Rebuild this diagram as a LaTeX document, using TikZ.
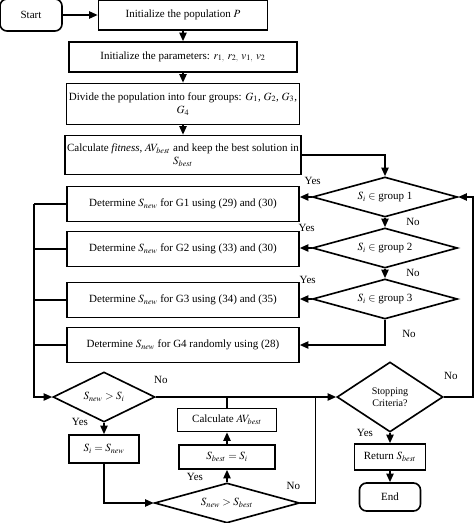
\documentclass[tikz,border=0pt]{standalone}
\usepackage{mathptmx}
\usepackage{fontspec}
\setmainfont{Liberation Serif}
\usetikzlibrary{shapes.geometric,positioning,arrows.meta}

\begin{document}
\begin{tikzpicture}[node distance=1.5cm,on grid,auto,
    line width=1.4pt,
    >={Triangle[length=2.6mm,width=2.2mm]},
    every node/.style={font=\fontsize{9.4}{11.5}\selectfont},
    box/.style={draw,rectangle,inner sep=2pt,minimum height=0.9cm,align=center},
    wide/.style={box,minimum width=6.96cm,minimum height=1.05cm},
    term/.style={draw,rectangle,rounded corners=6pt,align=center},
    test/.style={draw,diamond,inner sep=0pt,aspect=3,minimum width=4.35cm,minimum height=1.2cm,align=center},
    lbl/.style={inner sep=1pt}]
    \useasboundingbox (0,0) rectangle (14.22,-15.69);

    \node[box,minimum width=5.07cm] (pop) at (5.49,-0.45) {Initialize the population $P$};
    \node[term,minimum width=1.86cm,minimum height=0.96cm] (start) [left=4.56cm of pop] {Start};
    \node[box,minimum width=6.84cm] (param) [below=1.26cm of pop] {Initialize the parameters: $r_{1,}\ r_{2,}\ v_{1,}\ v_2$};
    \node[box,minimum width=6.9cm,minimum height=1.23cm] (divide) [below=1.41cm of param] {Divide the population into four groups: $G_1$, $G_2$, $G_3$,\\ $G_4$};
    \node[box,minimum width=6.96cm,minimum height=1.17cm] (calc) [below=1.53cm of divide] {Calculate \textit{fitness}, $AV_{best}$ and keep the best solution in\\ $S_{best}$};
    \node[wide] (g1) [below=1.47cm of calc] {Determine $S_{new}$ for G1 using (29) and (30)};
    \node[wide] (g2) [below=1.35cm of g1] {Determine $S_{new}$ for G2 using (33) and (30)};
    \node[wide] (g3) [below=1.53cm of g2] {Determine $S_{new}$ for G3 using (34) and (35)};
    \node[wide] (g4) [below=1.35cm of g3] {Determine $S_{new}$ for G4 randomly using (28)};

    \node[test] (d1) [above right=0.21cm and 6.06cm of g1] {$S_i \in$ group 1};
    \node[test] (d2) [below=1.53cm of d1] {$S_i \in$ group 2};
    \node[test] (d3) [below=1.53cm of d2] {$S_i \in$ group 3};

    \node[test,minimum width=3.06cm,minimum height=1.5cm] (cmp1) [below left=1.56cm and 2.37cm of g4] {$S_{new} > S_i$};
    \node[box,minimum width=2.1cm,minimum height=0.84cm] (upd) [below=1.56cm of cmp1] {$S_i = S_{new}$};
    \node[test] (cmp2) [below right=3.18cm and 3.69cm of cmp1] {$S_{new} > S_{best}$};
    \node[box,minimum width=2.88cm,minimum height=0.72cm] (sbest) [above=1.38cm of cmp2] {$S_{best} = S_i$};
    \node[box,minimum width=2.97cm,minimum height=0.69cm] (avb) [above=1.11cm of sbest] {Calculate $AV_{best}$};

    \node[test,minimum width=3.18cm,minimum height=2.1cm,font=\fontsize{8.6}{10}\selectfont] (stop) [right=8.58cm of cmp1] {Stopping\\ Criteria?};
    \node[box,minimum width=2.13cm,minimum height=0.78cm] (ret) [below=1.8cm of stop] {Return $S_{best}$};
    \node[term,minimum width=1.83cm,minimum height=0.84cm] (end) [below=1.2cm of ret] {End};

    \coordinate (bus) at ([xshift=-0.96cm]g1.west);
    \coordinate (join) at ([xshift=0.45cm]cmp2.east);

    \draw[->] (start) -- (pop);
    \draw[->] (pop) -- (param);
    \draw[->] (param) -- (divide);
    \draw[->] (divide) -- (calc);
    \draw[->] (calc.east) -| (d1.north);

    \draw[->] (d1.west) -- (d1.west -| g1.east);
    \draw[->] (d2.west) -- (d2.west -| g2.east);
    \draw[->] (d3.west) -- (d3.west -| g3.east);
    \draw[->] (d1) -- (d2);
    \draw[->] (d2) -- (d3);
    \draw[->] (d3.south) |- (g4.east);

    \draw (g1.west) -- (bus);
    \draw (g2.west) -- (g2.west -| bus);
    \draw (g3.west) -- (g3.west -| bus);
    \draw (g4.west) -- (g4.west -| bus);
    \draw[->] (bus) |- (cmp1.west);

    \draw[->] (cmp1) -- (upd);
    \draw[->] (upd.south) |- (cmp2.west);
    \draw[->] (cmp1.east) -- (stop.west);
    \draw (cmp2.east) -- (join) -- (join |- stop.west);
    \draw[->] (cmp2) -- (sbest);
    \draw[->] (sbest) -- (avb);
    \draw (avb.north) -- (avb.north |- stop.west);

    \draw[->] (stop) -- (ret);
    \draw[->] (ret) -- (end);
    \draw[->] (stop.east) -- ++(0.87,0) |- (d1.east);

    % yes / no labels
    \node[lbl] (y1) at ([shift={(0.03,0.48)}]d1.west) {Yes};
    \node[lbl] (y2) at ([shift={(-0.15,0.6)}]d2.west) {Yes};
    \node[lbl] (y3) at ([shift={(-0.12,0.57)}]d3.west) {Yes};
    \node[lbl] (n1) at ([shift={(0.84,-0.12)}]d1.south) {No};
    \node[lbl] (n2) at ([shift={(0.84,-0.12)}]d2.south) {No};
    \node[lbl] (n3) at ([shift={(0.72,-0.42)}]d3.south) {No};
    \node[lbl] (n4) at ([shift={(0.15,0.51)}]cmp1.east) {No};
    \node[lbl] (y4) at ([shift={(-0.72,0.03)}]cmp1.south) {Yes};
    \node[lbl] (y5) at ([shift={(-0.75,0)}]stop.south) {Yes};
    \node[lbl] (n5) at ([shift={(0.21,0.63)}]stop.east) {No};
    \node[lbl] (y6) at ([shift={(-0.96,0.15)}]cmp2.north) {Yes};
    \node[lbl] (n6) at ([shift={(-0.21,0.51)}]cmp2.east) {No};
\end{tikzpicture}
\end{document}
